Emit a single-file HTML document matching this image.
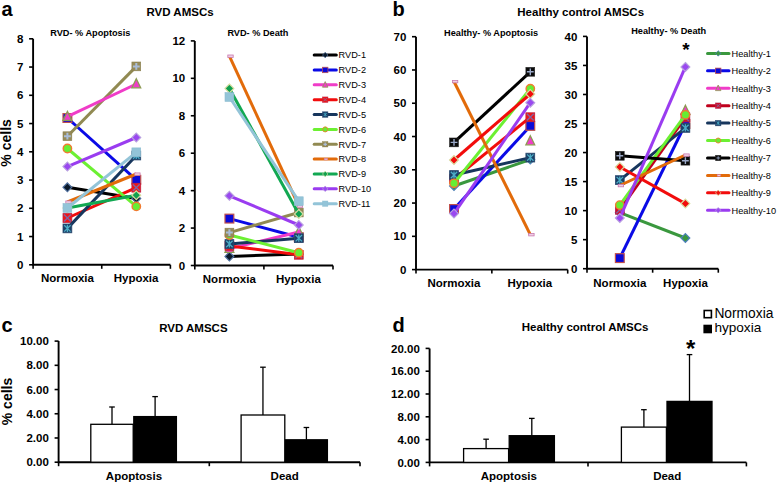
<!DOCTYPE html>
<html><head><meta charset="utf-8"><title>Figure</title>
<style>html,body{margin:0;padding:0;background:#fff;overflow:hidden}svg{display:block}text{font-family:"Liberation Sans",sans-serif;fill:#000}</style>
</head><body>
<svg width="778" height="484" viewBox="0 0 778 484">
<rect width="778" height="484" fill="#fff"/>
<text x="1.5" y="15.6" font-size="20" font-weight="bold" text-anchor="start" >a</text>
<text x="392.5" y="15.6" font-size="20" font-weight="bold" text-anchor="start" >b</text>
<text x="1.5" y="332" font-size="20" font-weight="bold" text-anchor="start" >c</text>
<text x="392.5" y="331.6" font-size="20" font-weight="bold" text-anchor="start" >d</text>
<text x="146.5" y="15.9" font-size="11.5" font-weight="bold" text-anchor="start" >RVD AMSCs</text>
<text x="517.3" y="16.2" font-size="11.5" font-weight="bold" text-anchor="start" >Healthy control AMSCs</text>
<text x="50.2" y="35.9" font-size="9.2" font-weight="bold" text-anchor="start" >RVD- % Apoptosis</text>
<text x="227.4" y="35.9" font-size="9.2" font-weight="bold" text-anchor="start" >RVD- % Death</text>
<text x="444.1" y="35.6" font-size="9.2" font-weight="bold" text-anchor="start" >Healthy- % Apoptosis</text>
<text x="631.2" y="34.0" font-size="9.2" font-weight="bold" text-anchor="start" >Healthy- % Death</text>
<text x="0" y="0" font-size="14" font-weight="bold" text-anchor="middle" transform="translate(11.0,142.9) rotate(-90)">% cells</text>
<text x="0" y="0" font-size="14" font-weight="bold" text-anchor="middle" transform="translate(12.2,401.5) rotate(-90)">% cells</text>
<path d="M33.1 38.8V264.8H170.4" fill="none" stroke="#000" stroke-width="1.9"/>
<line x1="29.1" y1="264.8" x2="33.1" y2="264.8" stroke="#000" stroke-width="1.6"/>
<text x="23.5" y="268.9" font-size="11.5" font-weight="bold" text-anchor="end" >0</text>
<line x1="29.1" y1="236.55" x2="33.1" y2="236.55" stroke="#000" stroke-width="1.6"/>
<text x="23.5" y="240.65" font-size="11.5" font-weight="bold" text-anchor="end" >1</text>
<line x1="29.1" y1="208.3" x2="33.1" y2="208.3" stroke="#000" stroke-width="1.6"/>
<text x="23.5" y="212.4" font-size="11.5" font-weight="bold" text-anchor="end" >2</text>
<line x1="29.1" y1="180.05" x2="33.1" y2="180.05" stroke="#000" stroke-width="1.6"/>
<text x="23.5" y="184.15" font-size="11.5" font-weight="bold" text-anchor="end" >3</text>
<line x1="29.1" y1="151.8" x2="33.1" y2="151.8" stroke="#000" stroke-width="1.6"/>
<text x="23.5" y="155.9" font-size="11.5" font-weight="bold" text-anchor="end" >4</text>
<line x1="29.1" y1="123.55000000000001" x2="33.1" y2="123.55000000000001" stroke="#000" stroke-width="1.6"/>
<text x="23.5" y="127.65" font-size="11.5" font-weight="bold" text-anchor="end" >5</text>
<line x1="29.1" y1="95.30000000000001" x2="33.1" y2="95.30000000000001" stroke="#000" stroke-width="1.6"/>
<text x="23.5" y="99.4" font-size="11.5" font-weight="bold" text-anchor="end" >6</text>
<line x1="29.1" y1="67.05000000000001" x2="33.1" y2="67.05000000000001" stroke="#000" stroke-width="1.6"/>
<text x="23.5" y="71.15" font-size="11.5" font-weight="bold" text-anchor="end" >7</text>
<line x1="29.1" y1="38.80000000000001" x2="33.1" y2="38.80000000000001" stroke="#000" stroke-width="1.6"/>
<text x="23.5" y="42.9" font-size="11.5" font-weight="bold" text-anchor="end" >8</text>
<line x1="33.1" y1="264.8" x2="33.1" y2="268.8" stroke="#000" stroke-width="1.6"/>
<line x1="101.75" y1="264.8" x2="101.75" y2="268.8" stroke="#000" stroke-width="1.6"/>
<line x1="170.4" y1="264.8" x2="170.4" y2="268.8" stroke="#000" stroke-width="1.6"/>
<text x="67.43" y="282.1" font-size="11.5" font-weight="bold" text-anchor="middle" >Normoxia</text>
<text x="136.08" y="282.1" font-size="11.5" font-weight="bold" text-anchor="middle" >Hypoxia</text>
<line x1="67.4" y1="187.3" x2="136.3" y2="198.6" stroke="#000000" stroke-width="3.0"/>
<polygon points="67.4,182.9 71.80000000000001,187.3 67.4,191.70000000000002 63.00000000000001,187.3" fill="#0b1a2a" stroke="#4f6f9d" stroke-width="1.2"/>
<polygon points="136.3,194.2 140.70000000000002,198.6 136.3,203.0 131.9,198.6" fill="#0b1a2a" stroke="#4f6f9d" stroke-width="1.2"/>
<line x1="67.4" y1="118.0" x2="136.3" y2="179.8" stroke="#0a0ae6" stroke-width="3.0"/>
<rect x="63.00000000000001" y="113.6" width="8.8" height="8.8" fill="#0a0ad8" stroke="#c0504d" stroke-width="1.2"/>
<rect x="131.9" y="175.4" width="8.8" height="8.8" fill="#0a0ad8" stroke="#c0504d" stroke-width="1.2"/>
<line x1="67.4" y1="136.2" x2="136.3" y2="66.4" stroke="#918a52" stroke-width="3.0"/>
<rect x="63.00000000000001" y="131.79999999999998" width="8.8" height="8.8" fill="#968a58" stroke="#8a8050" stroke-width="0.6"/>
<path d="M64.0 136.2L70.80000000000001 136.2M67.4 132.79999999999998L67.4 139.6" stroke="#a8bcd8" stroke-width="2.0"/>
<rect x="131.9" y="62.00000000000001" width="8.8" height="8.8" fill="#968a58" stroke="#8a8050" stroke-width="0.6"/>
<path d="M132.9 66.4L139.70000000000002 66.4M136.3 63.00000000000001L136.3 69.80000000000001" stroke="#a8bcd8" stroke-width="2.0"/>
<line x1="67.4" y1="116.6" x2="136.3" y2="84.0" stroke="#f03cc8" stroke-width="3.0"/>
<polygon points="67.4,111.39999999999999 71.80000000000001,120.4 63.00000000000001,120.4" fill="#f03cc8" stroke="#8c9a52" stroke-width="1.3"/>
<polygon points="136.3,78.8 140.70000000000002,87.80000000000001 131.9,87.80000000000001" fill="#f03cc8" stroke="#8c9a52" stroke-width="1.3"/>
<line x1="67.4" y1="218.0" x2="136.3" y2="187.7" stroke="#f20c0c" stroke-width="3.0"/>
<rect x="63.00000000000001" y="213.6" width="8.8" height="8.8" fill="#f01414" stroke="#c02040" stroke-width="0.8"/>
<path d="M64.0 214.6L70.80000000000001 221.4M70.80000000000001 214.6L64.0 221.4" stroke="#8064a2" stroke-width="1.4"/>
<rect x="131.9" y="183.29999999999998" width="8.8" height="8.8" fill="#f01414" stroke="#c02040" stroke-width="0.8"/>
<path d="M132.9 184.29999999999998L139.70000000000002 191.1M139.70000000000002 184.29999999999998L132.9 191.1" stroke="#8064a2" stroke-width="1.4"/>
<line x1="67.4" y1="228.4" x2="136.3" y2="155.5" stroke="#17365d" stroke-width="3.0"/>
<rect x="63.00000000000001" y="224.0" width="8.8" height="8.8" fill="#1b3f66" stroke="#2a4a70" stroke-width="0.8"/>
<path d="M64.2 225.2L70.60000000000001 231.60000000000002M70.60000000000001 225.2L64.2 231.60000000000002M67.4 224.8L67.4 232.0" stroke="#4bacc6" stroke-width="1.3"/>
<rect x="131.9" y="151.1" width="8.8" height="8.8" fill="#1b3f66" stroke="#2a4a70" stroke-width="0.8"/>
<path d="M133.1 152.29999999999998L139.50000000000003 158.70000000000002M139.50000000000003 152.29999999999998L133.1 158.70000000000002M136.3 151.9L136.3 159.1" stroke="#4bacc6" stroke-width="1.3"/>
<line x1="67.4" y1="148.5" x2="136.3" y2="206.4" stroke="#6cf032" stroke-width="3.0"/>
<circle cx="67.4" cy="148.5" r="4.2" fill="#66ee33" stroke="#f07a30" stroke-width="1.4"/>
<circle cx="136.3" cy="206.4" r="4.2" fill="#66ee33" stroke="#f07a30" stroke-width="1.4"/>
<line x1="67.4" y1="202.0" x2="136.3" y2="174.0" stroke="#e26b0a" stroke-width="3.0"/>
<rect x="65.80000000000001" y="200.9" width="5.4" height="2.4" fill="#f0d0e4" stroke="#c878b0" stroke-width="0.8"/>
<rect x="134.70000000000002" y="172.9" width="5.4" height="2.4" fill="#f0d0e4" stroke="#c878b0" stroke-width="0.8"/>
<line x1="67.4" y1="208.0" x2="136.3" y2="195.2" stroke="#12a852" stroke-width="3.0"/>
<polygon points="67.4,203.6 71.80000000000001,208.0 67.4,212.4 63.00000000000001,208.0" fill="#10a050" stroke="#d8dca0" stroke-width="1.2"/>
<polygon points="136.3,190.79999999999998 140.70000000000002,195.2 136.3,199.6 131.9,195.2" fill="#10a050" stroke="#d8dca0" stroke-width="1.2"/>
<line x1="67.4" y1="166.6" x2="136.3" y2="137.5" stroke="#9a3cf0" stroke-width="3.0"/>
<polygon points="67.4,162.2 71.80000000000001,166.6 67.4,171.0 63.00000000000001,166.6" fill="#9a48f0" stroke="#b8a0e0" stroke-width="1.2"/>
<polygon points="136.3,133.1 140.70000000000002,137.5 136.3,141.9 131.9,137.5" fill="#9a48f0" stroke="#b8a0e0" stroke-width="1.2"/>
<line x1="67.4" y1="208.0" x2="136.3" y2="152.3" stroke="#93c4d8" stroke-width="3.0"/>
<rect x="63.00000000000001" y="203.6" width="8.8" height="8.8" fill="#93c4d8" stroke="#8cbcd0" stroke-width="0.6"/>
<rect x="131.9" y="147.9" width="8.8" height="8.8" fill="#93c4d8" stroke="#8cbcd0" stroke-width="0.6"/>
<path d="M194.8 40.9V265.5H333.0" fill="none" stroke="#000" stroke-width="1.9"/>
<line x1="190.8" y1="265.5" x2="194.8" y2="265.5" stroke="#000" stroke-width="1.6"/>
<text x="185.2" y="269.6" font-size="11.5" font-weight="bold" text-anchor="end" >0</text>
<line x1="190.8" y1="228.06666666666666" x2="194.8" y2="228.06666666666666" stroke="#000" stroke-width="1.6"/>
<text x="185.2" y="232.17" font-size="11.5" font-weight="bold" text-anchor="end" >2</text>
<line x1="190.8" y1="190.63333333333333" x2="194.8" y2="190.63333333333333" stroke="#000" stroke-width="1.6"/>
<text x="185.2" y="194.73" font-size="11.5" font-weight="bold" text-anchor="end" >4</text>
<line x1="190.8" y1="153.2" x2="194.8" y2="153.2" stroke="#000" stroke-width="1.6"/>
<text x="185.2" y="157.3" font-size="11.5" font-weight="bold" text-anchor="end" >6</text>
<line x1="190.8" y1="115.76666666666668" x2="194.8" y2="115.76666666666668" stroke="#000" stroke-width="1.6"/>
<text x="185.2" y="119.87" font-size="11.5" font-weight="bold" text-anchor="end" >8</text>
<line x1="190.8" y1="78.33333333333334" x2="194.8" y2="78.33333333333334" stroke="#000" stroke-width="1.6"/>
<text x="185.2" y="82.43" font-size="11.5" font-weight="bold" text-anchor="end" >10</text>
<line x1="190.8" y1="40.900000000000006" x2="194.8" y2="40.900000000000006" stroke="#000" stroke-width="1.6"/>
<text x="185.2" y="45.0" font-size="11.5" font-weight="bold" text-anchor="end" >12</text>
<line x1="194.8" y1="265.5" x2="194.8" y2="269.5" stroke="#000" stroke-width="1.6"/>
<line x1="263.9" y1="265.5" x2="263.9" y2="269.5" stroke="#000" stroke-width="1.6"/>
<line x1="333.0" y1="265.5" x2="333.0" y2="269.5" stroke="#000" stroke-width="1.6"/>
<text x="229.35" y="282.6" font-size="11.5" font-weight="bold" text-anchor="middle" >Normoxia</text>
<text x="298.45" y="282.6" font-size="11.5" font-weight="bold" text-anchor="middle" >Hypoxia</text>
<line x1="229.4" y1="256.4" x2="298.8" y2="254.0" stroke="#000000" stroke-width="3.0"/>
<polygon points="229.4,251.99999999999997 233.8,256.4 229.4,260.79999999999995 225.0,256.4" fill="#0b1a2a" stroke="#4f6f9d" stroke-width="1.2"/>
<polygon points="298.8,249.6 303.2,254.0 298.8,258.4 294.40000000000003,254.0" fill="#0b1a2a" stroke="#4f6f9d" stroke-width="1.2"/>
<line x1="229.4" y1="218.6" x2="298.8" y2="237.2" stroke="#0a0ae6" stroke-width="3.0"/>
<rect x="225.0" y="214.2" width="8.8" height="8.8" fill="#0a0ad8" stroke="#c0504d" stroke-width="1.2"/>
<rect x="294.40000000000003" y="232.79999999999998" width="8.8" height="8.8" fill="#0a0ad8" stroke="#c0504d" stroke-width="1.2"/>
<line x1="229.4" y1="248.6" x2="298.8" y2="232.0" stroke="#f03cc8" stroke-width="3.0"/>
<polygon points="229.4,243.39999999999998 233.8,252.4 225.0,252.4" fill="#f03cc8" stroke="#8c9a52" stroke-width="1.3"/>
<polygon points="298.8,226.79999999999998 303.2,235.8 294.40000000000003,235.8" fill="#f03cc8" stroke="#8c9a52" stroke-width="1.3"/>
<line x1="229.4" y1="245.9" x2="298.8" y2="254.8" stroke="#f20c0c" stroke-width="3.0"/>
<rect x="225.0" y="241.5" width="8.8" height="8.8" fill="#f01414" stroke="#c02040" stroke-width="0.8"/>
<path d="M226.0 242.5L232.8 249.3M232.8 242.5L226.0 249.3" stroke="#8064a2" stroke-width="1.4"/>
<rect x="294.40000000000003" y="250.4" width="8.8" height="8.8" fill="#f01414" stroke="#c02040" stroke-width="0.8"/>
<path d="M295.40000000000003 251.4L302.2 258.2M302.2 251.4L295.40000000000003 258.2" stroke="#8064a2" stroke-width="1.4"/>
<line x1="229.4" y1="244.0" x2="298.8" y2="238.2" stroke="#17365d" stroke-width="3.0"/>
<rect x="225.0" y="239.6" width="8.8" height="8.8" fill="#1b3f66" stroke="#2a4a70" stroke-width="0.8"/>
<path d="M226.2 240.79999999999998L232.60000000000002 247.20000000000002M232.60000000000002 240.79999999999998L226.2 247.20000000000002M229.4 240.4L229.4 247.6" stroke="#4bacc6" stroke-width="1.3"/>
<rect x="294.40000000000003" y="233.79999999999998" width="8.8" height="8.8" fill="#1b3f66" stroke="#2a4a70" stroke-width="0.8"/>
<path d="M295.6 234.99999999999997L302.0 241.4M302.0 234.99999999999997L295.6 241.4M298.8 234.6L298.8 241.79999999999998" stroke="#4bacc6" stroke-width="1.3"/>
<line x1="229.4" y1="235.0" x2="298.8" y2="252.7" stroke="#6cf032" stroke-width="3.0"/>
<circle cx="229.4" cy="235.0" r="4.2" fill="#66ee33" stroke="#f07a30" stroke-width="1.4"/>
<circle cx="298.8" cy="252.7" r="4.2" fill="#66ee33" stroke="#f07a30" stroke-width="1.4"/>
<line x1="229.4" y1="232.6" x2="298.8" y2="212.5" stroke="#918a52" stroke-width="3.0"/>
<rect x="225.0" y="228.2" width="8.8" height="8.8" fill="#968a58" stroke="#8a8050" stroke-width="0.6"/>
<path d="M226.0 232.6L232.8 232.6M229.4 229.2L229.4 236.0" stroke="#a8bcd8" stroke-width="2.0"/>
<rect x="294.40000000000003" y="208.1" width="8.8" height="8.8" fill="#968a58" stroke="#8a8050" stroke-width="0.6"/>
<path d="M295.40000000000003 212.5L302.2 212.5M298.8 209.1L298.8 215.9" stroke="#a8bcd8" stroke-width="2.0"/>
<line x1="229.4" y1="56.1" x2="298.8" y2="206.0" stroke="#e26b0a" stroke-width="3.0"/>
<rect x="227.8" y="55.0" width="5.4" height="2.4" fill="#f0d0e4" stroke="#c878b0" stroke-width="0.8"/>
<rect x="297.2" y="204.9" width="5.4" height="2.4" fill="#f0d0e4" stroke="#c878b0" stroke-width="0.8"/>
<line x1="229.4" y1="88.4" x2="298.8" y2="214.0" stroke="#12a852" stroke-width="3.0"/>
<polygon points="229.4,84.0 233.8,88.4 229.4,92.80000000000001 225.0,88.4" fill="#10a050" stroke="#d8dca0" stroke-width="1.2"/>
<polygon points="298.8,209.6 303.2,214.0 298.8,218.4 294.40000000000003,214.0" fill="#10a050" stroke="#d8dca0" stroke-width="1.2"/>
<line x1="229.4" y1="195.8" x2="298.8" y2="225.0" stroke="#9a3cf0" stroke-width="3.0"/>
<polygon points="229.4,191.4 233.8,195.8 229.4,200.20000000000002 225.0,195.8" fill="#9a48f0" stroke="#b8a0e0" stroke-width="1.2"/>
<polygon points="298.8,220.6 303.2,225.0 298.8,229.4 294.40000000000003,225.0" fill="#9a48f0" stroke="#b8a0e0" stroke-width="1.2"/>
<line x1="229.4" y1="97.0" x2="298.8" y2="201.2" stroke="#93c4d8" stroke-width="3.0"/>
<rect x="225.0" y="92.6" width="8.8" height="8.8" fill="#93c4d8" stroke="#8cbcd0" stroke-width="0.6"/>
<rect x="294.40000000000003" y="196.79999999999998" width="8.8" height="8.8" fill="#93c4d8" stroke="#8cbcd0" stroke-width="0.6"/>
<line x1="314.2" y1="55.1" x2="336.3" y2="55.1" stroke="#000000" stroke-width="3" stroke-linecap="round"/>
<polygon points="325.2,52.372 327.928,55.1 325.2,57.828 322.472,55.1" fill="#0b1a2a" stroke="#4f6f9d" stroke-width="0.744"/>
<text x="338.6" y="58.4" font-size="9.2" text-anchor="start" >RVD-1</text>
<line x1="314.2" y1="69.96" x2="336.3" y2="69.96" stroke="#0a0ae6" stroke-width="3" stroke-linecap="round"/>
<rect x="322.472" y="67.232" width="5.456" height="5.456" fill="#0a0ad8" stroke="#c0504d" stroke-width="0.744"/>
<text x="338.6" y="73.26" font-size="9.2" text-anchor="start" >RVD-2</text>
<line x1="314.2" y1="84.82" x2="336.3" y2="84.82" stroke="#f03cc8" stroke-width="3" stroke-linecap="round"/>
<polygon points="325.2,81.596 327.928,87.17599999999999 322.472,87.17599999999999" fill="#f03cc8" stroke="#8c9a52" stroke-width="0.806"/>
<text x="338.6" y="88.12" font-size="9.2" text-anchor="start" >RVD-3</text>
<line x1="314.2" y1="99.68" x2="336.3" y2="99.68" stroke="#f20c0c" stroke-width="3" stroke-linecap="round"/>
<rect x="322.472" y="96.95200000000001" width="5.456" height="5.456" fill="#f01414" stroke="#c02040" stroke-width="0.496"/>
<path d="M323.472 97.95200000000001L326.928 101.408M326.928 97.95200000000001L323.472 101.408" stroke="#8064a2" stroke-width="0.868"/>
<text x="338.6" y="102.98" font-size="9.2" text-anchor="start" >RVD-4</text>
<line x1="314.2" y1="114.54" x2="336.3" y2="114.54" stroke="#17365d" stroke-width="3" stroke-linecap="round"/>
<rect x="322.472" y="111.81200000000001" width="5.456" height="5.456" fill="#1b3f66" stroke="#2a4a70" stroke-width="0.496"/>
<path d="M323.67199999999997 113.01200000000001L326.728 116.068M326.728 113.01200000000001L323.67199999999997 116.068M325.2 112.61200000000001L325.2 116.468" stroke="#4bacc6" stroke-width="0.806"/>
<text x="338.6" y="117.84" font-size="9.2" text-anchor="start" >RVD-5</text>
<line x1="314.2" y1="129.4" x2="336.3" y2="129.4" stroke="#6cf032" stroke-width="3" stroke-linecap="round"/>
<circle cx="325.2" cy="129.4" r="2.528" fill="#66ee33" stroke="#f07a30" stroke-width="0.868"/>
<text x="338.6" y="132.7" font-size="9.2" text-anchor="start" >RVD-6</text>
<line x1="314.2" y1="144.26" x2="336.3" y2="144.26" stroke="#918a52" stroke-width="3" stroke-linecap="round"/>
<rect x="322.472" y="141.53199999999998" width="5.456" height="5.456" fill="#968a58" stroke="#8a8050" stroke-width="0.372"/>
<path d="M323.472 144.26L326.928 144.26M325.2 142.53199999999998L325.2 145.988" stroke="#a8bcd8" stroke-width="1.24"/>
<text x="338.6" y="147.56" font-size="9.2" text-anchor="start" >RVD-7</text>
<line x1="314.2" y1="159.12" x2="336.3" y2="159.12" stroke="#e26b0a" stroke-width="3" stroke-linecap="round"/>
<rect x="324.20799999999997" y="158.43800000000002" width="3.3480000000000003" height="1.488" fill="#f0d0e4" stroke="#c878b0" stroke-width="0.496"/>
<text x="338.6" y="162.42" font-size="9.2" text-anchor="start" >RVD-8</text>
<line x1="314.2" y1="173.98" x2="336.3" y2="173.98" stroke="#12a852" stroke-width="3" stroke-linecap="round"/>
<polygon points="325.2,171.25199999999998 327.928,173.98 325.2,176.708 322.472,173.98" fill="#10a050" stroke="#d8dca0" stroke-width="0.744"/>
<text x="338.6" y="177.28" font-size="9.2" text-anchor="start" >RVD-9</text>
<line x1="314.2" y1="188.84" x2="336.3" y2="188.84" stroke="#9a3cf0" stroke-width="3" stroke-linecap="round"/>
<polygon points="325.2,186.112 327.928,188.84 325.2,191.568 322.472,188.84" fill="#9a48f0" stroke="#b8a0e0" stroke-width="0.744"/>
<text x="338.6" y="192.14" font-size="9.2" text-anchor="start" >RVD-10</text>
<line x1="314.2" y1="203.7" x2="336.3" y2="203.7" stroke="#93c4d8" stroke-width="3" stroke-linecap="round"/>
<rect x="322.472" y="200.97199999999998" width="5.456" height="5.456" fill="#93c4d8" stroke="#8cbcd0" stroke-width="0.372"/>
<text x="338.6" y="207.0" font-size="9.2" text-anchor="start" >RVD-11</text>
<path d="M416.0 36.7V269.6H567.7" fill="none" stroke="#000" stroke-width="1.9"/>
<line x1="412.0" y1="269.6" x2="416.0" y2="269.6" stroke="#000" stroke-width="1.6"/>
<text x="406.4" y="273.7" font-size="11.5" font-weight="bold" text-anchor="end" >0</text>
<line x1="412.0" y1="236.32857142857145" x2="416.0" y2="236.32857142857145" stroke="#000" stroke-width="1.6"/>
<text x="406.4" y="240.43" font-size="11.5" font-weight="bold" text-anchor="end" >10</text>
<line x1="412.0" y1="203.05714285714288" x2="416.0" y2="203.05714285714288" stroke="#000" stroke-width="1.6"/>
<text x="406.4" y="207.16" font-size="11.5" font-weight="bold" text-anchor="end" >20</text>
<line x1="412.0" y1="169.7857142857143" x2="416.0" y2="169.7857142857143" stroke="#000" stroke-width="1.6"/>
<text x="406.4" y="173.89" font-size="11.5" font-weight="bold" text-anchor="end" >30</text>
<line x1="412.0" y1="136.5142857142857" x2="416.0" y2="136.5142857142857" stroke="#000" stroke-width="1.6"/>
<text x="406.4" y="140.61" font-size="11.5" font-weight="bold" text-anchor="end" >40</text>
<line x1="412.0" y1="103.24285714285713" x2="416.0" y2="103.24285714285713" stroke="#000" stroke-width="1.6"/>
<text x="406.4" y="107.34" font-size="11.5" font-weight="bold" text-anchor="end" >50</text>
<line x1="412.0" y1="69.97142857142859" x2="416.0" y2="69.97142857142859" stroke="#000" stroke-width="1.6"/>
<text x="406.4" y="74.07" font-size="11.5" font-weight="bold" text-anchor="end" >60</text>
<line x1="412.0" y1="36.69999999999999" x2="416.0" y2="36.69999999999999" stroke="#000" stroke-width="1.6"/>
<text x="406.4" y="40.8" font-size="11.5" font-weight="bold" text-anchor="end" >70</text>
<line x1="416.0" y1="269.6" x2="416.0" y2="273.6" stroke="#000" stroke-width="1.6"/>
<line x1="491.85" y1="269.6" x2="491.85" y2="273.6" stroke="#000" stroke-width="1.6"/>
<line x1="567.7" y1="269.6" x2="567.7" y2="273.6" stroke="#000" stroke-width="1.6"/>
<text x="453.93" y="286.8" font-size="11.5" font-weight="bold" text-anchor="middle" >Normoxia</text>
<text x="529.78" y="286.8" font-size="11.5" font-weight="bold" text-anchor="middle" >Hypoxia</text>
<line x1="454.0" y1="186.0" x2="530.3" y2="159.5" stroke="#3a983e" stroke-width="3.0"/>
<polygon points="454.0,181.6 458.4,186.0 454.0,190.4 449.6,186.0" fill="#3a983e" stroke="#4f81bd" stroke-width="1.2"/>
<polygon points="530.3,155.1 534.6999999999999,159.5 530.3,163.9 525.9,159.5" fill="#3a983e" stroke="#4f81bd" stroke-width="1.2"/>
<line x1="454.0" y1="209.0" x2="530.3" y2="125.9" stroke="#0a0ae6" stroke-width="3.0"/>
<rect x="449.6" y="204.6" width="8.8" height="8.8" fill="#0a0ad8" stroke="#c0504d" stroke-width="1.2"/>
<rect x="525.9" y="121.5" width="8.8" height="8.8" fill="#0a0ad8" stroke="#c0504d" stroke-width="1.2"/>
<polygon points="530.3,135.79999999999998 534.6999999999999,144.8 525.9,144.8" fill="#f03cc8" stroke="#8c9a52" stroke-width="1.3"/>
<line x1="454.0" y1="179.0" x2="530.3" y2="117.2" stroke="#f20c0c" stroke-width="3.0"/>
<rect x="449.6" y="174.6" width="8.8" height="8.8" fill="#f01414" stroke="#c02040" stroke-width="0.8"/>
<path d="M450.6 175.6L457.4 182.4M457.4 175.6L450.6 182.4" stroke="#8064a2" stroke-width="1.4"/>
<rect x="525.9" y="112.8" width="8.8" height="8.8" fill="#f01414" stroke="#c02040" stroke-width="0.8"/>
<path d="M526.9 113.8L533.6999999999999 120.60000000000001M533.6999999999999 113.8L526.9 120.60000000000001" stroke="#8064a2" stroke-width="1.4"/>
<line x1="454.0" y1="175.0" x2="530.3" y2="157.6" stroke="#17365d" stroke-width="3.0"/>
<rect x="449.6" y="170.6" width="8.8" height="8.8" fill="#1b3f66" stroke="#2a4a70" stroke-width="0.8"/>
<path d="M450.8 171.79999999999998L457.2 178.20000000000002M457.2 171.79999999999998L450.8 178.20000000000002M454.0 171.4L454.0 178.6" stroke="#4bacc6" stroke-width="1.3"/>
<rect x="525.9" y="153.2" width="8.8" height="8.8" fill="#1b3f66" stroke="#2a4a70" stroke-width="0.8"/>
<path d="M527.1 154.39999999999998L533.4999999999999 160.8M533.4999999999999 154.39999999999998L527.1 160.8M530.3 154.0L530.3 161.2" stroke="#4bacc6" stroke-width="1.3"/>
<line x1="454.0" y1="183.3" x2="530.3" y2="88.7" stroke="#6cf032" stroke-width="3.0"/>
<circle cx="454.0" cy="183.3" r="4.2" fill="#66ee33" stroke="#f07a30" stroke-width="1.4"/>
<circle cx="530.3" cy="88.7" r="4.2" fill="#66ee33" stroke="#f07a30" stroke-width="1.4"/>
<line x1="454.0" y1="142.4" x2="530.3" y2="71.8" stroke="#000000" stroke-width="3.0"/>
<rect x="449.6" y="138.0" width="8.8" height="8.8" fill="#0a0a0a" stroke="#222" stroke-width="0.6"/>
<path d="M450.6 142.4L457.4 142.4M454.0 139.0L454.0 145.8" stroke="#9aa8c8" stroke-width="1.4"/>
<rect x="525.9" y="67.39999999999999" width="8.8" height="8.8" fill="#0a0a0a" stroke="#222" stroke-width="0.6"/>
<path d="M526.9 71.8L533.6999999999999 71.8M530.3 68.39999999999999L530.3 75.2" stroke="#9aa8c8" stroke-width="1.4"/>
<line x1="454.0" y1="81.5" x2="530.3" y2="234.6" stroke="#e26b0a" stroke-width="3.0"/>
<rect x="452.4" y="80.4" width="5.4" height="2.4" fill="#f0d0e4" stroke="#c878b0" stroke-width="0.8"/>
<rect x="528.6999999999999" y="233.5" width="5.4" height="2.4" fill="#f0d0e4" stroke="#c878b0" stroke-width="0.8"/>
<line x1="454.0" y1="160.0" x2="530.3" y2="94.0" stroke="#f20c0c" stroke-width="3.0"/>
<polygon points="454.0,155.6 458.4,160.0 454.0,164.4 449.6,160.0" fill="#f20c0c" stroke="#d8dca0" stroke-width="1.2"/>
<polygon points="530.3,89.6 534.6999999999999,94.0 530.3,98.4 525.9,94.0" fill="#f20c0c" stroke="#d8dca0" stroke-width="1.2"/>
<line x1="454.0" y1="213.6" x2="530.3" y2="102.7" stroke="#9a3cf0" stroke-width="3.0"/>
<polygon points="454.0,209.2 458.4,213.6 454.0,218.0 449.6,213.6" fill="#9a48f0" stroke="#b8a0e0" stroke-width="1.2"/>
<polygon points="530.3,98.3 534.6999999999999,102.7 530.3,107.10000000000001 525.9,102.7" fill="#9a48f0" stroke="#b8a0e0" stroke-width="1.2"/>
<path d="M587.0 36.4V268.7H718.3" fill="none" stroke="#000" stroke-width="1.9"/>
<line x1="583.0" y1="268.7" x2="587.0" y2="268.7" stroke="#000" stroke-width="1.6"/>
<text x="577.4" y="272.8" font-size="11.5" font-weight="bold" text-anchor="end" >0</text>
<line x1="583.0" y1="239.6625" x2="587.0" y2="239.6625" stroke="#000" stroke-width="1.6"/>
<text x="577.4" y="243.76" font-size="11.5" font-weight="bold" text-anchor="end" >5</text>
<line x1="583.0" y1="210.625" x2="587.0" y2="210.625" stroke="#000" stroke-width="1.6"/>
<text x="577.4" y="214.72" font-size="11.5" font-weight="bold" text-anchor="end" >10</text>
<line x1="583.0" y1="181.58749999999998" x2="587.0" y2="181.58749999999998" stroke="#000" stroke-width="1.6"/>
<text x="577.4" y="185.69" font-size="11.5" font-weight="bold" text-anchor="end" >15</text>
<line x1="583.0" y1="152.55" x2="587.0" y2="152.55" stroke="#000" stroke-width="1.6"/>
<text x="577.4" y="156.65" font-size="11.5" font-weight="bold" text-anchor="end" >20</text>
<line x1="583.0" y1="123.51249999999999" x2="587.0" y2="123.51249999999999" stroke="#000" stroke-width="1.6"/>
<text x="577.4" y="127.61" font-size="11.5" font-weight="bold" text-anchor="end" >25</text>
<line x1="583.0" y1="94.475" x2="587.0" y2="94.475" stroke="#000" stroke-width="1.6"/>
<text x="577.4" y="98.57" font-size="11.5" font-weight="bold" text-anchor="end" >30</text>
<line x1="583.0" y1="65.4375" x2="587.0" y2="65.4375" stroke="#000" stroke-width="1.6"/>
<text x="577.4" y="69.54" font-size="11.5" font-weight="bold" text-anchor="end" >35</text>
<line x1="583.0" y1="36.400000000000006" x2="587.0" y2="36.400000000000006" stroke="#000" stroke-width="1.6"/>
<text x="577.4" y="40.5" font-size="11.5" font-weight="bold" text-anchor="end" >40</text>
<line x1="587.0" y1="268.7" x2="587.0" y2="272.7" stroke="#000" stroke-width="1.6"/>
<line x1="652.65" y1="268.7" x2="652.65" y2="272.7" stroke="#000" stroke-width="1.6"/>
<line x1="718.3" y1="268.7" x2="718.3" y2="272.7" stroke="#000" stroke-width="1.6"/>
<text x="619.83" y="286.6" font-size="11.5" font-weight="bold" text-anchor="middle" >Normoxia</text>
<text x="685.47" y="286.6" font-size="11.5" font-weight="bold" text-anchor="middle" >Hypoxia</text>
<line x1="619.8" y1="212.6" x2="685.4" y2="238.0" stroke="#3a983e" stroke-width="3.0"/>
<polygon points="619.8,208.2 624.1999999999999,212.6 619.8,217.0 615.4,212.6" fill="#3a983e" stroke="#4f81bd" stroke-width="1.2"/>
<polygon points="685.4,233.6 689.8,238.0 685.4,242.4 681.0,238.0" fill="#3a983e" stroke="#4f81bd" stroke-width="1.2"/>
<line x1="619.8" y1="258.1" x2="685.4" y2="124.0" stroke="#0a0ae6" stroke-width="3.0"/>
<rect x="615.4" y="253.70000000000002" width="8.8" height="8.8" fill="#0a0ad8" stroke="#c0504d" stroke-width="1.2"/>
<rect x="681.0" y="119.6" width="8.8" height="8.8" fill="#0a0ad8" stroke="#c0504d" stroke-width="1.2"/>
<polygon points="685.4,105.3 689.8,114.30000000000001 681.0,114.30000000000001" fill="#f03cc8" stroke="#8c9a52" stroke-width="1.3"/>
<line x1="619.8" y1="209.8" x2="685.4" y2="117.5" stroke="#c0001c" stroke-width="3.0"/>
<rect x="615.4" y="205.4" width="8.8" height="8.8" fill="#d0102a" stroke="#b02050" stroke-width="0.8"/>
<path d="M616.4 206.4L623.1999999999999 213.20000000000002M623.1999999999999 206.4L616.4 213.20000000000002" stroke="#8064a2" stroke-width="1.4"/>
<rect x="681.0" y="113.1" width="8.8" height="8.8" fill="#d0102a" stroke="#b02050" stroke-width="0.8"/>
<path d="M682.0 114.1L688.8 120.9M688.8 114.1L682.0 120.9" stroke="#8064a2" stroke-width="1.4"/>
<line x1="619.8" y1="180.1" x2="685.4" y2="127.9" stroke="#17365d" stroke-width="3.0"/>
<rect x="615.4" y="175.7" width="8.8" height="8.8" fill="#1b3f66" stroke="#2a4a70" stroke-width="0.8"/>
<path d="M616.6 176.89999999999998L622.9999999999999 183.3M622.9999999999999 176.89999999999998L616.6 183.3M619.8 176.5L619.8 183.7" stroke="#4bacc6" stroke-width="1.3"/>
<rect x="681.0" y="123.5" width="8.8" height="8.8" fill="#1b3f66" stroke="#2a4a70" stroke-width="0.8"/>
<path d="M682.2 124.7L688.5999999999999 131.10000000000002M688.5999999999999 124.7L682.2 131.10000000000002M685.4 124.3L685.4 131.5" stroke="#4bacc6" stroke-width="1.3"/>
<line x1="619.8" y1="205.1" x2="685.4" y2="114.8" stroke="#6cf032" stroke-width="3.0"/>
<circle cx="619.8" cy="205.1" r="4.2" fill="#66ee33" stroke="#f07a30" stroke-width="1.4"/>
<circle cx="685.4" cy="114.8" r="4.2" fill="#66ee33" stroke="#f07a30" stroke-width="1.4"/>
<line x1="619.8" y1="155.8" x2="685.4" y2="160.7" stroke="#000000" stroke-width="3.0"/>
<rect x="615.4" y="151.4" width="8.8" height="8.8" fill="#0a0a0a" stroke="#222" stroke-width="0.6"/>
<path d="M616.4 155.8L623.1999999999999 155.8M619.8 152.4L619.8 159.20000000000002" stroke="#9aa8c8" stroke-width="1.4"/>
<rect x="681.0" y="156.29999999999998" width="8.8" height="8.8" fill="#0a0a0a" stroke="#222" stroke-width="0.6"/>
<path d="M682.0 160.7L688.8 160.7M685.4 157.29999999999998L685.4 164.1" stroke="#9aa8c8" stroke-width="1.4"/>
<line x1="619.8" y1="185.5" x2="685.4" y2="155.0" stroke="#e26b0a" stroke-width="3.0"/>
<rect x="618.1999999999999" y="184.4" width="5.4" height="2.4" fill="#f0d0e4" stroke="#c878b0" stroke-width="0.8"/>
<rect x="683.8" y="153.9" width="5.4" height="2.4" fill="#f0d0e4" stroke="#c878b0" stroke-width="0.8"/>
<line x1="619.8" y1="167.0" x2="685.4" y2="203.6" stroke="#f20c0c" stroke-width="3.0"/>
<polygon points="619.8,162.6 624.1999999999999,167.0 619.8,171.4 615.4,167.0" fill="#f20c0c" stroke="#d8dca0" stroke-width="1.2"/>
<polygon points="685.4,199.2 689.8,203.6 685.4,208.0 681.0,203.6" fill="#f20c0c" stroke="#d8dca0" stroke-width="1.2"/>
<line x1="619.8" y1="218.1" x2="685.4" y2="66.9" stroke="#9a3cf0" stroke-width="3.0"/>
<polygon points="619.8,213.7 624.1999999999999,218.1 619.8,222.5 615.4,218.1" fill="#9a48f0" stroke="#b8a0e0" stroke-width="1.2"/>
<polygon points="685.4,62.50000000000001 689.8,66.9 685.4,71.30000000000001 681.0,66.9" fill="#9a48f0" stroke="#b8a0e0" stroke-width="1.2"/>
<text x="686.0" y="56.0" font-size="19" font-weight="bold" text-anchor="middle" >*</text>
<line x1="707.5" y1="53.4" x2="729.0" y2="53.4" stroke="#3a983e" stroke-width="3" stroke-linecap="round"/>
<polygon points="718.2,50.672 720.928,53.4 718.2,56.128 715.4720000000001,53.4" fill="#3a983e" stroke="#4f81bd" stroke-width="0.744"/>
<text x="731.6" y="56.7" font-size="9.2" text-anchor="start" >Healthy-1</text>
<line x1="707.5" y1="70.83" x2="729.0" y2="70.83" stroke="#0a0ae6" stroke-width="3" stroke-linecap="round"/>
<rect x="715.4720000000001" y="68.102" width="5.456" height="5.456" fill="#0a0ad8" stroke="#c0504d" stroke-width="0.744"/>
<text x="731.6" y="74.13" font-size="9.2" text-anchor="start" >Healthy-2</text>
<line x1="707.5" y1="88.26" x2="729.0" y2="88.26" stroke="#f03cc8" stroke-width="3" stroke-linecap="round"/>
<polygon points="718.2,85.03600000000002 720.928,90.616 715.4720000000001,90.616" fill="#f03cc8" stroke="#8c9a52" stroke-width="0.806"/>
<text x="731.6" y="91.56" font-size="9.2" text-anchor="start" >Healthy-3</text>
<line x1="707.5" y1="105.69" x2="729.0" y2="105.69" stroke="#c0001c" stroke-width="3" stroke-linecap="round"/>
<rect x="715.4720000000001" y="102.962" width="5.456" height="5.456" fill="#d0102a" stroke="#b02050" stroke-width="0.496"/>
<path d="M716.4720000000001 103.962L719.928 107.41799999999999M719.928 103.962L716.4720000000001 107.41799999999999" stroke="#8064a2" stroke-width="0.868"/>
<text x="731.6" y="108.99" font-size="9.2" text-anchor="start" >Healthy-4</text>
<line x1="707.5" y1="123.12" x2="729.0" y2="123.12" stroke="#17365d" stroke-width="3" stroke-linecap="round"/>
<rect x="715.4720000000001" y="120.39200000000001" width="5.456" height="5.456" fill="#1b3f66" stroke="#2a4a70" stroke-width="0.496"/>
<path d="M716.6720000000001 121.59200000000001L719.728 124.648M719.728 121.59200000000001L716.6720000000001 124.648M718.2 121.19200000000001L718.2 125.048" stroke="#4bacc6" stroke-width="0.806"/>
<text x="731.6" y="126.42" font-size="9.2" text-anchor="start" >Healthy-5</text>
<line x1="707.5" y1="140.55" x2="729.0" y2="140.55" stroke="#6cf032" stroke-width="3" stroke-linecap="round"/>
<circle cx="718.2" cy="140.55" r="2.528" fill="#66ee33" stroke="#f07a30" stroke-width="0.868"/>
<text x="731.6" y="143.85" font-size="9.2" text-anchor="start" >Healthy-6</text>
<line x1="707.5" y1="157.98" x2="729.0" y2="157.98" stroke="#000000" stroke-width="3" stroke-linecap="round"/>
<rect x="715.4720000000001" y="155.25199999999998" width="5.456" height="5.456" fill="#0a0a0a" stroke="#222" stroke-width="0.372"/>
<path d="M716.4720000000001 157.98L719.928 157.98M718.2 156.25199999999998L718.2 159.708" stroke="#9aa8c8" stroke-width="0.868"/>
<text x="731.6" y="161.28" font-size="9.2" text-anchor="start" >Healthy-7</text>
<line x1="707.5" y1="175.41" x2="729.0" y2="175.41" stroke="#e26b0a" stroke-width="3" stroke-linecap="round"/>
<rect x="717.2080000000001" y="174.728" width="3.3480000000000003" height="1.488" fill="#f0d0e4" stroke="#c878b0" stroke-width="0.496"/>
<text x="731.6" y="178.71" font-size="9.2" text-anchor="start" >Healthy-8</text>
<line x1="707.5" y1="192.84" x2="729.0" y2="192.84" stroke="#f20c0c" stroke-width="3" stroke-linecap="round"/>
<polygon points="718.2,190.112 720.928,192.84 718.2,195.568 715.4720000000001,192.84" fill="#f20c0c" stroke="#d8dca0" stroke-width="0.744"/>
<text x="731.6" y="196.14" font-size="9.2" text-anchor="start" >Healthy-9</text>
<line x1="707.5" y1="210.27" x2="729.0" y2="210.27" stroke="#9a3cf0" stroke-width="3" stroke-linecap="round"/>
<polygon points="718.2,207.542 720.928,210.27 718.2,212.99800000000002 715.4720000000001,210.27" fill="#9a48f0" stroke="#b8a0e0" stroke-width="0.744"/>
<text x="731.6" y="213.57" font-size="9.2" text-anchor="start" >Healthy-10</text>
<path d="M58.6 341.1V462.2H360.0" fill="none" stroke="#000" stroke-width="1.9"/>
<line x1="54.6" y1="462.2" x2="58.6" y2="462.2" stroke="#000" stroke-width="1.6"/>
<text x="48.8" y="466.3" font-size="11.5" font-weight="bold" text-anchor="end" >0.00</text>
<line x1="54.6" y1="437.98" x2="58.6" y2="437.98" stroke="#000" stroke-width="1.6"/>
<text x="48.8" y="442.08" font-size="11.5" font-weight="bold" text-anchor="end" >2.00</text>
<line x1="54.6" y1="413.76" x2="58.6" y2="413.76" stroke="#000" stroke-width="1.6"/>
<text x="48.8" y="417.86" font-size="11.5" font-weight="bold" text-anchor="end" >4.00</text>
<line x1="54.6" y1="389.54" x2="58.6" y2="389.54" stroke="#000" stroke-width="1.6"/>
<text x="48.8" y="393.64" font-size="11.5" font-weight="bold" text-anchor="end" >6.00</text>
<line x1="54.6" y1="365.32000000000005" x2="58.6" y2="365.32000000000005" stroke="#000" stroke-width="1.6"/>
<text x="48.8" y="369.42" font-size="11.5" font-weight="bold" text-anchor="end" >8.00</text>
<line x1="54.6" y1="341.1" x2="58.6" y2="341.1" stroke="#000" stroke-width="1.6"/>
<text x="48.8" y="345.2" font-size="11.5" font-weight="bold" text-anchor="end" >10.00</text>
<line x1="58.6" y1="462.2" x2="58.6" y2="466.2" stroke="#000" stroke-width="1.6"/>
<line x1="209.29999999999998" y1="462.2" x2="209.29999999999998" y2="466.2" stroke="#000" stroke-width="1.6"/>
<line x1="360.0" y1="462.2" x2="360.0" y2="466.2" stroke="#000" stroke-width="1.6"/>
<text x="133.95" y="479.6" font-size="11.5" font-weight="bold" text-anchor="middle" >Apoptosis</text>
<text x="284.65" y="479.6" font-size="11.5" font-weight="bold" text-anchor="middle" >Dead</text>
<line x1="112.0" y1="424.3" x2="112.0" y2="407.0" stroke="#000" stroke-width="1.3"/>
<line x1="109.2" y1="407.0" x2="114.8" y2="407.0" stroke="#000" stroke-width="1.3"/>
<rect x="90.8" y="424.3" width="42.39999999999999" height="37.89999999999998" fill="#fff" stroke="#000" stroke-width="1.3"/>
<line x1="155.10000000000002" y1="416.6" x2="155.10000000000002" y2="396.6" stroke="#000" stroke-width="1.3"/>
<line x1="152.3" y1="396.6" x2="157.90000000000003" y2="396.6" stroke="#000" stroke-width="1.3"/>
<rect x="133.8" y="416.6" width="42.599999999999994" height="45.599999999999966" fill="#000" stroke="#000" stroke-width="1.3"/>
<line x1="262.95" y1="415.0" x2="262.95" y2="367.2" stroke="#000" stroke-width="1.3"/>
<line x1="260.15" y1="367.2" x2="265.75" y2="367.2" stroke="#000" stroke-width="1.3"/>
<rect x="241.1" y="415.0" width="43.70000000000002" height="47.19999999999999" fill="#fff" stroke="#000" stroke-width="1.3"/>
<line x1="306.4" y1="439.8" x2="306.4" y2="427.5" stroke="#000" stroke-width="1.3"/>
<line x1="303.59999999999997" y1="427.5" x2="309.2" y2="427.5" stroke="#000" stroke-width="1.3"/>
<rect x="285.4" y="439.8" width="42.0" height="22.399999999999977" fill="#000" stroke="#000" stroke-width="1.3"/>
<text x="159.2" y="332.1" font-size="11.5" font-weight="bold" text-anchor="start" >RVD AMSCS</text>
<path d="M429.6 348.4V462.4H746.4" fill="none" stroke="#000" stroke-width="1.9"/>
<line x1="425.6" y1="462.4" x2="429.6" y2="462.4" stroke="#000" stroke-width="1.6"/>
<text x="419.8" y="466.5" font-size="11.5" font-weight="bold" text-anchor="end" >0.00</text>
<line x1="425.6" y1="439.59999999999997" x2="429.6" y2="439.59999999999997" stroke="#000" stroke-width="1.6"/>
<text x="419.8" y="443.7" font-size="11.5" font-weight="bold" text-anchor="end" >4.00</text>
<line x1="425.6" y1="416.79999999999995" x2="429.6" y2="416.79999999999995" stroke="#000" stroke-width="1.6"/>
<text x="419.8" y="420.9" font-size="11.5" font-weight="bold" text-anchor="end" >8.00</text>
<line x1="425.6" y1="394.0" x2="429.6" y2="394.0" stroke="#000" stroke-width="1.6"/>
<text x="419.8" y="398.1" font-size="11.5" font-weight="bold" text-anchor="end" >12.00</text>
<line x1="425.6" y1="371.2" x2="429.6" y2="371.2" stroke="#000" stroke-width="1.6"/>
<text x="419.8" y="375.3" font-size="11.5" font-weight="bold" text-anchor="end" >16.00</text>
<line x1="425.6" y1="348.4" x2="429.6" y2="348.4" stroke="#000" stroke-width="1.6"/>
<text x="419.8" y="352.5" font-size="11.5" font-weight="bold" text-anchor="end" >20.00</text>
<line x1="429.6" y1="462.4" x2="429.6" y2="466.4" stroke="#000" stroke-width="1.6"/>
<line x1="588.0" y1="462.4" x2="588.0" y2="466.4" stroke="#000" stroke-width="1.6"/>
<line x1="746.4" y1="462.4" x2="746.4" y2="466.4" stroke="#000" stroke-width="1.6"/>
<text x="508.8" y="479.6" font-size="11.5" font-weight="bold" text-anchor="middle" >Apoptosis</text>
<text x="667.2" y="479.6" font-size="11.5" font-weight="bold" text-anchor="middle" >Dead</text>
<line x1="486.1" y1="448.6" x2="486.1" y2="439.2" stroke="#000" stroke-width="1.3"/>
<line x1="483.3" y1="439.2" x2="488.90000000000003" y2="439.2" stroke="#000" stroke-width="1.3"/>
<rect x="463.6" y="448.6" width="45.0" height="13.799999999999955" fill="#fff" stroke="#000" stroke-width="1.3"/>
<line x1="531.8" y1="435.7" x2="531.8" y2="418.4" stroke="#000" stroke-width="1.3"/>
<line x1="529.0" y1="418.4" x2="534.5999999999999" y2="418.4" stroke="#000" stroke-width="1.3"/>
<rect x="509.2" y="435.7" width="45.19999999999999" height="26.69999999999999" fill="#000" stroke="#000" stroke-width="1.3"/>
<line x1="643.9" y1="427.1" x2="643.9" y2="409.7" stroke="#000" stroke-width="1.3"/>
<line x1="641.1" y1="409.7" x2="646.6999999999999" y2="409.7" stroke="#000" stroke-width="1.3"/>
<rect x="621.4" y="427.1" width="45.0" height="35.299999999999955" fill="#fff" stroke="#000" stroke-width="1.3"/>
<line x1="689.5" y1="401.4" x2="689.5" y2="354.6" stroke="#000" stroke-width="1.3"/>
<line x1="686.7" y1="354.6" x2="692.3" y2="354.6" stroke="#000" stroke-width="1.3"/>
<rect x="667.0" y="401.4" width="45.0" height="61.0" fill="#000" stroke="#000" stroke-width="1.3"/>
<text x="521.7" y="331.4" font-size="11.5" font-weight="bold" text-anchor="start" >Healthy control AMSCs</text>
<text x="690.6" y="356.5" font-size="24" font-weight="bold" text-anchor="middle" >*</text>
<rect x="704.2" y="310.5" width="7.2" height="7.2" fill="#fff" stroke="#000" stroke-width="1.6"/>
<rect x="703.4" y="324.7" width="8.6" height="8.6" fill="#000"/>
<text x="714.4" y="318.4" font-size="13.8" text-anchor="start" >Normoxia</text>
<text x="714.4" y="332.4" font-size="13.6" text-anchor="start" >hypoxia</text>
</svg></body></html>
